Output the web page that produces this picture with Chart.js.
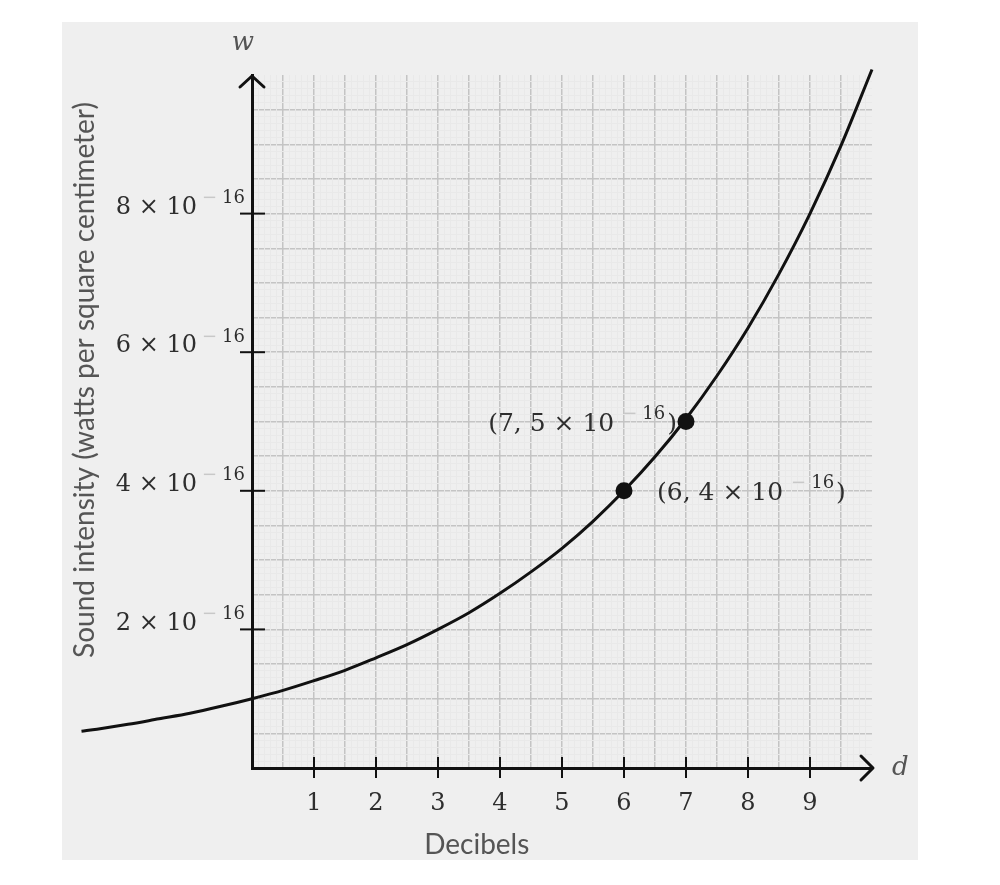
<!DOCTYPE html>
<html>
<head>
<meta charset="utf-8">
<script src="https://cdn.jsdelivr.net/npm/chart.js@4.4.1/dist/chart.umd.min.js"></script>
<style>
  html, body { margin: 0; padding: 0; background: #ffffff; }
  #panel { position: absolute; left: 62px; top: 22px; width: 856px; height: 838px; background: #efefef; }
  canvas { display: block; }
</style>
</head>
<body>
<div id="panel"><canvas id="chart" width="856" height="838"></canvas></div>
<script>
// sound intensity curve (w in units of 10^-16)
const D_VALUES = [-2.75, -2.5, -2, -1.5, -1, -0.5, 0, 0.5, 1, 1.5, 2, 2.5, 3, 3.5, 4, 4.5, 5, 5.5, 6, 6.5, 7, 7.5, 8, 8.5, 9, 9.5, 10];
const W_VALUES = [0.53, 0.56, 0.63, 0.71, 0.79, 0.89, 1.0, 1.12, 1.26, 1.41, 1.59, 1.78, 2.0, 2.24, 2.52, 2.83, 3.17, 3.56, 4.0, 4.49, 5.04, 5.66, 6.35, 7.13, 8.0, 8.98, 10.08];

// marked points and their labels
const MARKED_D = [7, 6];
const MARKED_W = [5, 4];
const MARKED_TEXT = ["(7, 5 × 10", "(6, 4 × 10"];

const X_TICK_LABELS = [1, 2, 3, 4, 5, 6, 7, 8, 9];
const Y_TICK_LABELS = [2, 4, 6, 8];
const EXPONENT = "16";

const X_TITLE = "Decibels";
const Y_TITLE = "Sound intensity (watts per square centimeter)";
const X_NAME = "d";
const Y_NAME = "w";

const INK = "#111111";
const TEXT = "#2e2e2e";
const TITLE = "#555555";
const MAJOR = "#c4c4c4";
const MINOR = "#e9e9e9";
const SERIF = "'DejaVu Serif', serif";

const isHalf = (v) => Math.abs(v * 2 - Math.round(v * 2)) < 1e-6;

const majorGrid = (c) => {
  const v = c.tick.value;
  return v <= 0 || v >= 10 ? "transparent" : MAJOR;
};
const minorGrid = (c) => {
  const v = c.tick.value;
  return v <= 0 || v >= 10 || isHalf(v) ? "transparent" : MINOR;
};

function drawSup(ctx, x, yMid) {
  // "−16" exponent, the minus is very light in the source
  ctx.font = "18px " + SERIF;
  ctx.textAlign = "left";
  ctx.textBaseline = "middle";
  ctx.fillStyle = "#c8c8c8";
  ctx.fillText("−", x, yMid);
  const mw = ctx.measureText("−").width + 5;
  ctx.fillStyle = TEXT;
  ctx.fillText(EXPONENT, x + mw, yMid);
  return mw + ctx.measureText(EXPONENT).width;
}

const decor = {
  id: "decor",
  afterDraw(chart) {
    const { ctx, chartArea: a, scales } = chart;
    const x = scales.x;
    const y = scales.y;
    ctx.save();

    // tick marks across the axes
    ctx.strokeStyle = INK;
    ctx.lineWidth = 2;
    X_TICK_LABELS.forEach((v) => {
      const px = x.getPixelForValue(v);
      ctx.beginPath();
      ctx.moveTo(px, a.bottom - 11);
      ctx.lineTo(px, a.bottom + 10);
      ctx.stroke();
    });
    Y_TICK_LABELS.forEach((v) => {
      const py = y.getPixelForValue(v);
      ctx.beginPath();
      ctx.moveTo(a.left - 12, py);
      ctx.lineTo(a.left + 13, py);
      ctx.stroke();
    });

    // arrow heads
    ctx.lineWidth = 3;
    ctx.lineCap = "round";
    ctx.lineJoin = "round";
    ctx.beginPath();
    ctx.moveTo(a.left - 12, a.top + 12);
    ctx.lineTo(a.left, a.top + 1);
    ctx.lineTo(a.left + 12, a.top + 12);
    ctx.stroke();
    ctx.beginPath();
    ctx.moveTo(a.right - 11, a.bottom - 12);
    ctx.lineTo(a.right + 1, a.bottom);
    ctx.lineTo(a.right - 11, a.bottom + 12);
    ctx.stroke();

    // exponents of y tick labels
    Y_TICK_LABELS.forEach((v) => {
      const py = y.getPixelForValue(v);
      drawSup(ctx, a.left - 50, py - 15);
    });

    // point labels
    MARKED_D.forEach((d, i) => {
      const px = x.getPixelForValue(d);
      const py = y.getPixelForValue(MARKED_W[i]);
      ctx.font = "25px " + SERIF;
      const baseW = ctx.measureText(MARKED_TEXT[i]).width;
      const parenW = ctx.measureText(")").width;
      ctx.font = "18px " + SERIF;
      const supW = ctx.measureText("−").width + 5 + ctx.measureText(EXPONENT).width;
      const total = baseW + 8 + supW + 2 + parenW;
      const sx = i === 0 ? px - 9 - total : px + 33;
      const ty = py + 3;
      ctx.font = "25px " + SERIF;
      ctx.fillStyle = TEXT;
      ctx.textAlign = "left";
      ctx.textBaseline = "middle";
      ctx.fillText(MARKED_TEXT[i], sx, ty);
      drawSup(ctx, sx + baseW + 8, ty - 10);
      ctx.font = "25px " + SERIF;
      ctx.fillStyle = TEXT;
      ctx.fillText(")", sx + baseW + 8 + supW + 2, ty);
    });

    // axis names
    ctx.font = "italic 26px " + SERIF;
    ctx.fillStyle = TITLE;
    ctx.textAlign = "center";
    ctx.textBaseline = "middle";
    ctx.fillText(Y_NAME, a.left - 9, a.top - 32);
    ctx.textAlign = "left";
    ctx.fillText(X_NAME, a.right + 20, a.bottom);

    // axis titles, x title centred under the whole drawn curve
    ctx.font = "28px Lato";
    ctx.fillStyle = TITLE;
    ctx.textAlign = "center";
    const x0 = x.getPixelForValue(D_VALUES[0]);
    ctx.fillText(X_TITLE, (x0 + a.right) / 2, 823);
    ctx.translate(23, 358);
    ctx.rotate(-Math.PI / 2);
    ctx.fillText(Y_TITLE, 0, 0);
    ctx.restore();
  },
};

new Chart(document.getElementById("chart"), {
  type: "scatter",
  data: {
    datasets: [
      {
        label: "marked",
        data: MARKED_D.map((d, i) => ({ x: d, y: MARKED_W[i] })),
        pointRadius: 8.5,
        pointBackgroundColor: INK,
        pointBorderWidth: 0,
        clip: false,
        order: 0,
      },
      {
        label: "intensity",
        data: D_VALUES.map((d, i) => ({ x: d, y: W_VALUES[i] })),
        showLine: true,
        borderColor: INK,
        borderWidth: 3,
        pointRadius: 0,
        cubicInterpolationMode: "monotone",
        clip: false,
        order: 1,
      },
    ],
  },
  options: {
    responsive: false,
    animation: false,
    devicePixelRatio: 1,
    layout: { padding: { left: 0, right: 46, top: 53, bottom: 0 } },
    plugins: { legend: { display: false }, tooltip: { enabled: false } },
    scales: {
      x: {
        type: "linear",
        position: "bottom",
        afterDataLimits: (s) => { s.min = 0; s.max = 10; },
        afterFit: (s) => { s.height = 92; s.paddingLeft = 0; s.paddingRight = 0; },
        ticks: {
          stepSize: 0.5,
          autoSkip: false,
          maxRotation: 0,
          padding: 21,
          color: TEXT,
          font: { family: SERIF, size: 24 },
          callback: (v) => (X_TICK_LABELS.includes(v) ? String(v) : ""),
        },
        grid: { color: majorGrid, lineWidth: 1.5, drawTicks: false },
        border: { display: true, color: INK, width: 3 },
      },
      y: {
        type: "linear",
        position: "left",
        min: 0,
        max: 10,
        afterFit: (s) => { s.width = 190; s.paddingTop = 0; s.paddingBottom = 0; },
        ticks: {
          stepSize: 0.5,
          autoSkip: false,
          padding: 55,
          labelOffset: -6,
          color: TEXT,
          font: { family: SERIF, size: 24 },
          callback: (v) => (Y_TICK_LABELS.includes(v) ? v + " × 10" : ""),
        },
        grid: { color: majorGrid, lineWidth: 1.5, drawTicks: false },
        border: { display: true, color: INK, width: 3 },
      },
      xm: {
        type: "linear",
        axis: "x",
        position: "bottom",
        min: 0,
        max: 10,
        afterFit: (s) => { s.height = 0; s.paddingLeft = 0; s.paddingRight = 0; },
        ticks: { display: false, stepSize: 0.1, autoSkip: false },
        grid: { color: minorGrid, lineWidth: 1, drawTicks: false },
        border: { display: false },
      },
      ym: {
        type: "linear",
        axis: "y",
        position: "left",
        min: 0,
        max: 10,
        afterFit: (s) => { s.width = 0; s.paddingTop = 0; s.paddingBottom = 0; },
        ticks: { display: false, stepSize: 0.1, autoSkip: false },
        grid: { color: minorGrid, lineWidth: 1, drawTicks: false },
        border: { display: false },
      },
    },
  },
  plugins: [decor],
});
</script>
</body>
</html>
